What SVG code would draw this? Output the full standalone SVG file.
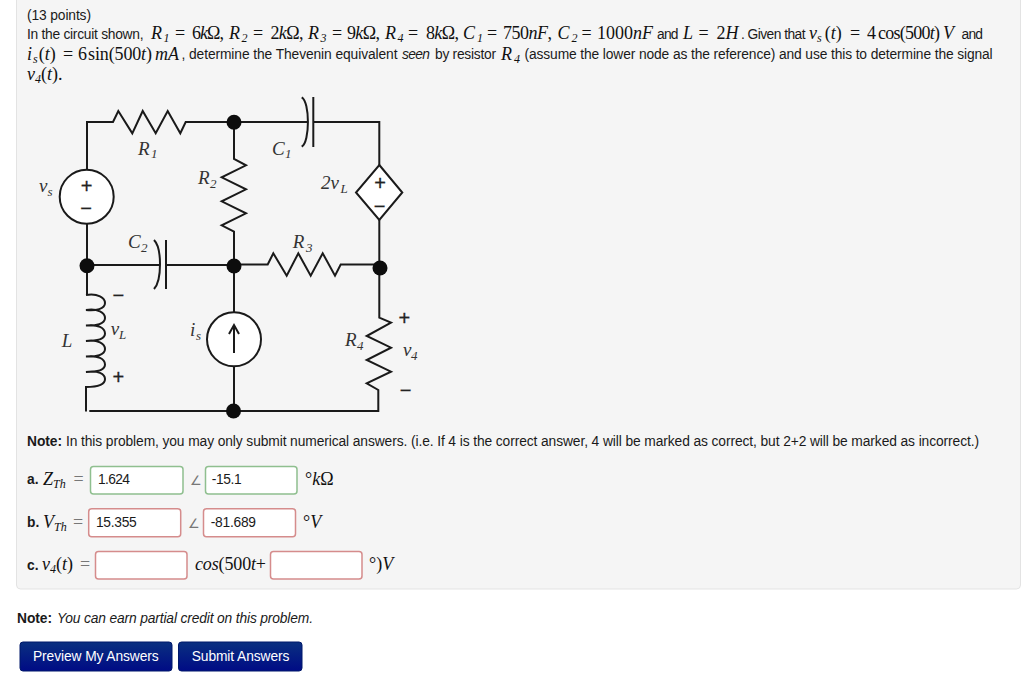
<svg xmlns="http://www.w3.org/2000/svg" width="1024" height="673" viewBox="0 0 1024 673">
<style>
text{font-family:"Liberation Sans",Arial,sans-serif;font-size:13.800px;fill:#1a1a1a}
.m{font-family:"Liberation Serif","Times New Roman",serif;font-size:18px;fill:#111}
.i{font-style:italic}
.s{font-size:12px}
.b{font-weight:bold}
.l{font-family:"Liberation Serif","Times New Roman",serif;font-style:italic;font-size:19px;fill:#333}
.ls{font-family:"Liberation Serif","Times New Roman",serif;font-style:italic;font-size:13px;fill:#333}
.p{font-size:20px;fill:#222;stroke:#222;stroke-width:.3;text-anchor:middle}
.w{fill:none;stroke:#1a1a1a;stroke-width:2;stroke-linejoin:miter}
.d{fill:#0d0d0d}
.src{fill:#fff;stroke:#1a1a1a;stroke-width:2}
.ok{fill:#fff;stroke:#8fbf8f;stroke-width:1.500}
.no{fill:#fff;stroke:#d58c8c;stroke-width:1.500}
.g{fill:#777}
.a{font-size:13px;fill:#777}
.btn{fill:url(#bg);stroke:#00186a;stroke-width:1}
.bt{fill:#fff}
</style>
<defs>
<linearGradient id="bg" x1="0" y1="0" x2="0" y2="1"><stop offset="0" stop-color="#0a3080"/><stop offset="1" stop-color="#000b85"/></linearGradient>
</defs>
<rect width="1024" height="673" fill="#fff"/>
<rect x="16.500" y="-6" width="1004" height="595" rx="4" fill="#f5f5f5" stroke="#e3e3e3"/>

<g id="problem-text">
<text x="27" y="20" textLength="64">(13 points)</text>
<text x="27" y="39" textLength="116.500">In the circuit shown,</text>
<text class="m i" x="151" y="39">R<tspan class="s" dy="3" dx="1.500">1</tspan></text><text class="m" x="175" y="39">=</text><text class="m" x="192" y="39" textLength="32">6<tspan class="i">k</tspan>Ω,</text>
<text class="m i" x="229" y="39">R<tspan class="s" dy="3" dx="1.500">2</tspan></text><text class="m" x="253" y="39">=</text><text class="m" x="270.500" y="39" textLength="33">2<tspan class="i">k</tspan>Ω,</text>
<text class="m i" x="308" y="39">R<tspan class="s" dy="3" dx="1.500">3</tspan></text><text class="m" x="332" y="39">=</text><text class="m" x="347" y="39" textLength="33">9<tspan class="i">k</tspan>Ω,</text>
<text class="m i" x="385" y="39">R<tspan class="s" dy="3" dx="1.500">4</tspan></text><text class="m" x="408" y="39">=</text><text class="m" x="426" y="39" textLength="33">8<tspan class="i">k</tspan>Ω,</text>
<text class="m i" x="463" y="39">C<tspan class="s" dy="3" dx="2">1</tspan></text><text class="m" x="487" y="39">=</text><text class="m" x="503" y="39" textLength="49">750<tspan class="i">nF</tspan>,</text>
<text class="m i" x="557.500" y="39">C<tspan class="s" dy="3" dx="2">2</tspan></text><text class="m" x="581.500" y="39">=</text><text class="m" x="597" y="39">1000<tspan class="i">nF</tspan></text>
<text x="657" y="39" textLength="21.500">and</text>
<text class="m i" x="683" y="39">L</text><text class="m" x="698.500" y="39">=</text><text class="m" x="716.500" y="39">2<tspan class="i">H</tspan></text>
<text x="741" y="39" textLength="64.500">. Given that</text>
<text class="m i" x="809" y="39">v<tspan class="s" dy="3">s</tspan><tspan dy="-3" dx="3" font-style="normal">(</tspan>t<tspan font-style="normal">)</tspan></text><text class="m" x="850" y="39">=</text><text class="m" x="867" y="39">4</text><text class="m" x="878" y="39" textLength="62">cos(500<tspan class="i">t</tspan>)</text><text class="m i" x="943" y="39">V</text>
<text x="961.500" y="39" textLength="21.500">and</text>
<text class="m i" x="27" y="60">i<tspan class="s" dy="3" dx="1">s</tspan><tspan dy="-3" dx="1" font-style="normal">(</tspan>t<tspan font-style="normal">)</tspan></text><text class="m" x="63" y="60">=</text><text class="m" x="78" y="60">6</text><text class="m" x="88" y="60" textLength="64">sin(500<tspan class="i">t</tspan>)</text><text class="m i" x="155" y="60">mA</text>
<text x="181.500" y="59" textLength="216">, determine the Thevenin equivalent</text>
<text class="i" x="402" y="59" textLength="28">seen</text>
<text x="435" y="59" textLength="61">by resistor</text>
<text class="m i" x="501" y="60">R<tspan class="s" dy="3" dx="2">4</tspan></text>
<text x="524.500" y="59" textLength="468.200">(assume the lower node as the reference) and use this to determine the signal</text>
<text class="m i" x="27" y="80">v<tspan class="s" dy="3">4</tspan><tspan dy="-3" font-style="normal">(</tspan>t<tspan font-style="normal">).</tspan></text>
</g>

<g id="connectors">
<path class="w" d="M87 169V122H113L118.300 111L132.300 133.300L142.700 111L155.700 133.300L167.700 111L180.300 133.300L185.700 122H234"/>
<path class="w" d="M234 122H307"/>
<path class="w" d="M313.300 122H379.300V165"/>
<path class="w" d="M301.700 97.300C310 102 310 142 301.700 146.700"/>
<path class="w" d="M313.300 97V147"/>
<path class="w" d="M379.300 220V268"/>
<path class="w" d="M234 122V159L246 165.300L221.700 177.300L246 189.300L221.700 201.300L246 213.300L221.700 225.300L234 231.700V266"/>
<path class="w" d="M234 264.500H267.700L273.300 253.300L286.700 275.700L298.300 253.300L310.700 275.700L322.700 253.300L335 275.700L340.700 264.500H380"/>
<path class="w" d="M87 224V295"/>
<path class="w" d="M87 265H160"/>
<path class="w" d="M154 240C162 248 162 280 154 289"/>
<path class="w" d="M166 240V289"/>
<path class="w" d="M166 265H234"/>
<path class="w" d="M86 295C98 293 105 298 105 303C105 309 96 311 86 310C98 308 105 313 105 318C105 324 96 326 86 325.500C98 324 105 328 105 333.500C105 339 96 341 86 341C98 339 105 344 105 349C105 355 96 357 86 356.500C98 355 105 359 105 364.500C105 370 96 372 86 372C98 370 105 374 105 379C105 385 96 387 86 387V411.500"/>
<path class="w" d="M89.300 411H378.300V390L366.700 383.300L391 371.700L366.700 360L391 347.700L366.700 336L391 322.700L379.300 317.700V268"/>
<path class="w" d="M234 266V312"/>
<path class="w" d="M234 366V411"/>
</g>

<g id="node-vs"><circle class="src" cx="86.700" cy="196.700" r="27"/><text class="p" x="86.700" y="193">+</text><text class="p" x="86" y="215">−</text><text class="l" x="39" y="192">v</text><text class="ls" x="47.500" y="195.500">s</text></g>
<g id="node-is"><circle class="src" cx="234" cy="339.300" r="27"/><path class="w" d="M234 353V326M229 334L234 325L239 334"/><text class="l" x="190" y="336">i</text><text class="ls" x="196" y="339.500">s</text></g>
<g id="node-dep"><path class="src" d="M379.300 165L402.300 192.500L379.300 220L356 192.500Z"/><text class="p" x="380" y="189.500">+</text><text class="p" x="379.500" y="213">−</text><text class="l" x="321" y="189">2v</text><text class="ls" x="340.500" y="193">L</text></g>
<g id="node-R1"><text class="l" x="138" y="154.500">R</text><text class="ls" x="151" y="158">1</text></g>
<g id="node-R2"><text class="l" x="198" y="184">R</text><text class="ls" x="210" y="188">2</text></g>
<g id="node-R3"><text class="l" x="292.700" y="248">R</text><text class="ls" x="306" y="252">3</text></g>
<g id="node-R4"><text class="l" x="345" y="346">R</text><text class="ls" x="357" y="350">4</text></g>
<g id="node-C1"><text class="l" x="272" y="155">C</text><text class="ls" x="285" y="158">1</text></g>
<g id="node-C2"><text class="l" x="128" y="248">C</text><text class="ls" x="141" y="252">2</text></g>
<g id="node-L"><text class="l" x="61.700" y="347">L</text><text class="p" x="118.300" y="302">−</text><text class="l" x="110.700" y="335">v</text><text class="ls" x="119" y="339">L</text><text class="p" x="118.300" y="384">+</text></g>
<g id="node-v4"><text class="p" x="404.300" y="325">+</text><text class="l" x="403" y="356">v</text><text class="ls" x="411" y="360">4</text><text class="p" x="405.700" y="397">−</text></g>
<g id="node-j1"><circle class="d" cx="234" cy="122.300" r="7.500"/></g>
<g id="node-j2"><circle class="d" cx="234" cy="266" r="7.500"/></g>
<g id="node-j3"><circle class="d" cx="87" cy="265.700" r="7.500"/></g>
<g id="node-j4"><circle class="d" cx="380" cy="268" r="7.500"/></g>
<g id="node-j5"><circle class="d" cx="233.500" cy="411" r="7.500"/></g>

<g id="answers">
<text class="b" x="27" y="446" textLength="35">Note:</text><text x="66" y="446" textLength="913">In this problem, you may only submit numerical answers. (i.e. If 4 is the correct answer, 4 will be marked as correct, but 2+2 will be marked as incorrect.)</text>
<text class="b" x="27" y="484">a.</text><text class="m i" x="43" y="485">Z<tspan class="s" dy="3">Th</tspan></text><text class="m g" x="73.500" y="485">=</text>
<rect class="ok" x="90.500" y="466.500" width="92.500" height="27.500" rx="3"/><text x="98" y="484" textLength="32">1.624</text>
<text class="a" x="190" y="485">∠</text>
<rect class="ok" x="205.500" y="466.500" width="91.500" height="27.500" rx="3"/><text x="211.700" y="484" textLength="30">-15.1</text>
<text class="m" x="305" y="485">°<tspan class="i">k</tspan>Ω</text>
<text class="b" x="27" y="527">b.</text><text class="m i" x="43" y="528">V<tspan class="s" dy="3">Th</tspan></text><text class="m g" x="73" y="528">=</text>
<rect class="no" x="88.700" y="508.700" width="92" height="28" rx="3"/><text x="96" y="527" textLength="40.700">15.355</text>
<text class="a" x="188" y="528">∠</text>
<rect class="no" x="203.500" y="508.700" width="92" height="28" rx="3"/><text x="210.700" y="527" textLength="45.300">-81.689</text>
<text class="m" x="303" y="528">°<tspan class="i">V</tspan></text>
<text class="b" x="27" y="570">c.</text><text class="m i" x="42" y="570">v<tspan class="s" dy="3">4</tspan><tspan dy="-3" font-style="normal">(</tspan>t<tspan font-style="normal">)</tspan></text><text class="m g" x="80" y="570">=</text>
<rect class="no" x="95.500" y="551.500" width="91.500" height="27.500" rx="3"/>
<text class="m" x="195" y="570" textLength="71"><tspan class="i">cos</tspan>(500<tspan class="i">t</tspan>+</text>
<rect class="no" x="270.500" y="551.500" width="91.500" height="27.500" rx="3"/>
<text class="m" x="369" y="570">°)<tspan class="i">V</tspan></text>
<text class="b" x="17" y="623" textLength="35">Note:</text><text class="i" x="57" y="623" textLength="256">You can earn partial credit on this problem.</text>
</g>
<g id="button-preview"><rect class="btn" x="20" y="642" width="152" height="29" rx="3"/><text class="bt" x="33" y="661" textLength="125.700">Preview My Answers</text></g>
<g id="button-submit"><rect class="btn" x="178.500" y="642" width="123.500" height="29" rx="3"/><text class="bt" x="191.700" y="661" textLength="97.700">Submit Answers</text></g>
</svg>
